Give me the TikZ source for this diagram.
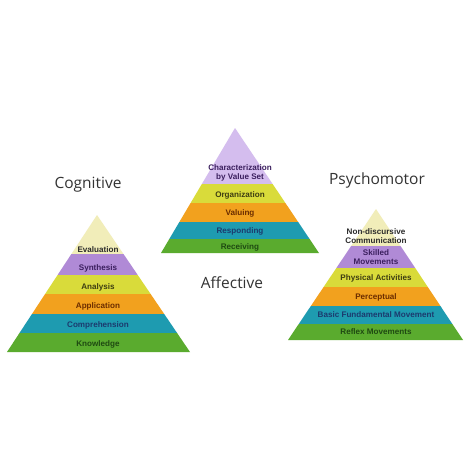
\documentclass[tikz,border=0pt]{standalone}
\usepackage{fontspec}
\setmainfont{Liberation Sans}
\newfontfamily\titlefont{Open Sans}
\usetikzlibrary{calc}
\definecolor{bPale}{HTML}{F1EDB9}
\definecolor{bPurp}{HTML}{B08AD6}
\definecolor{bLilac}{HTML}{D4BDEE}
\definecolor{bYel}{HTML}{D9DB3A}
\definecolor{bOra}{HTML}{F2A11E}
\definecolor{bTeal}{HTML}{1E9BB0}
\definecolor{bGrn}{HTML}{5AAB2E}
\definecolor{tDark}{HTML}{2A2A2A}
\definecolor{tPurp}{HTML}{3B1F5E}
\definecolor{tYel}{HTML}{3D3D12}
\definecolor{tOra}{HTML}{6A2C00}
\definecolor{tTeal}{HTML}{1C3A6E}
\definecolor{tGrn}{HTML}{1F4A12}
\definecolor{titleGray}{HTML}{333333}
\tikzset{
  bandtext/.style={font=\bfseries\fontsize{8.1}{9.4}\selectfont, align=center, inner sep=0pt},
  titletext/.style={font=\titlefont\fontsize{15.5}{17}\selectfont, text=titleGray, inner sep=0pt}
}
\newcommand\pyrband[6]{% apex, left, right, t1, t2, colour
  \fill[#6] ($(#1)!#4!(#2)$) -- ($(#1)!#5!(#2)$) -- ($(#1)!#5!(#3)$) -- ($(#1)!#4!(#3)$) -- cycle;}
\begin{document}
\begin{tikzpicture}[x=1pt,y=-1pt]
\fill[white] (0,0) rectangle (474,474);
\useasboundingbox (0,0) rectangle (474,474);

% ---------- Cognitive ----------
\coordinate (cA) at (97,215);
\coordinate (cL) at (7,352);
\coordinate (cR) at (190,352);
\foreach \ya/\yb/\col in {215/254/bPale,254/275/bPurp,275/294/bYel,294/314/bOra,314/333/bTeal,333/352/bGrn}{
  \pgfmathsetmacro\ta{(\ya-215)/137}
  \pgfmathsetmacro\tb{(\yb-215)/137}
  \pyrband{cA}{cL}{cR}{\ta}{\tb}{\col}
}
\node[titletext] (cogT) at (88,185) {Cognitive};
\node[bandtext, text=tDark] (c1) at (98,250) {Evaluation};
\node[bandtext, text=tPurp] (c2) at (98,268) {Synthesis};
\node[bandtext, text=tYel] (c3) at (98,287) {Analysis};
\node[bandtext, text=tOra] (c4) at (98,306) {Application};
\node[bandtext, text=tTeal] (c5) at (98,325) {Comprehension};
\node[bandtext, text=tGrn] (c6) at (98,344) {Knowledge};

% ---------- Affective ----------
\coordinate (aA) at (235,128);
\coordinate (aL) at (161,253);
\coordinate (aR) at (319,253);
\foreach \ya/\yb/\col in {128/184/bLilac,184/203/bYel,203/222/bOra,222/239/bTeal,239/253/bGrn}{
  \pgfmathsetmacro\ta{(\ya-128)/125}
  \pgfmathsetmacro\tb{(\yb-128)/125}
  \pyrband{aA}{aL}{aR}{\ta}{\tb}{\col}
}
\node[titletext] (affT) at (232,283) {Affective};
\node[bandtext, text=tPurp] (a1) at (240,173) {Characterization\\by Value Set};
\node[bandtext, text=tYel] (a2) at (240,195) {Organization};
\node[bandtext, text=tOra] (a3) at (240,213) {Valuing};
\node[bandtext, text=tTeal] (a4) at (240,231) {Responding};
\node[bandtext, text=tGrn] (a5) at (240,247) {Receiving};

% ---------- Psychomotor ----------
\coordinate (pA) at (376,209);
\coordinate (pL) at (288,340);
\coordinate (pR) at (463,340);
\foreach \ya/\yb/\col in {209/246/bPale,246/268/bPurp,268/287/bYel,287/306/bOra,306/324/bTeal,324/340/bGrn}{
  \pgfmathsetmacro\ta{(\ya-209)/131}
  \pgfmathsetmacro\tb{(\yb-209)/131}
  \pyrband{pA}{pL}{pR}{\ta}{\tb}{\col}
}
\node[titletext] (psyT) at (377,180) {Psychomotor};
\node[bandtext, text=tDark] (p1) at (376,236) {Non-discursive\\Communication};
\node[bandtext, text=tPurp] (p2) at (376,257) {Skilled\\Movements};
\node[bandtext, text=tYel] (p3) at (376,278) {Physical Activities};
\node[bandtext, text=tOra] (p4) at (376,297) {Perceptual};
\node[bandtext, text=tTeal] (p5) at (376,315) {Basic Fundamental Movement};
\node[bandtext, text=tGrn] (p6) at (376,332) {Reflex Movements};
\end{tikzpicture}
\end{document}
